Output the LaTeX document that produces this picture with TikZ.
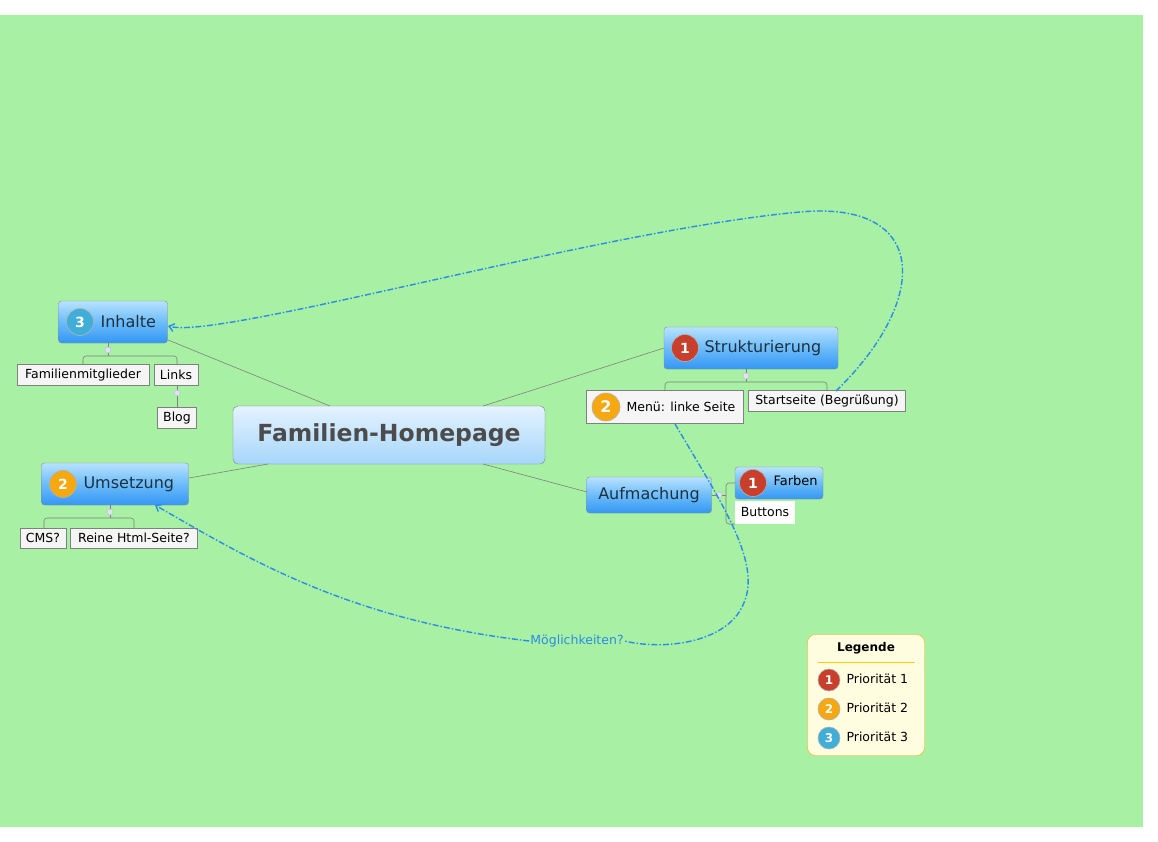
\documentclass[tikz,border=0pt]{standalone}
\usepackage{fontspec}
\setmainfont{DejaVu Sans}
\usetikzlibrary{arrows.meta}
\definecolor{bg}{HTML}{A8F0A4}
\definecolor{rel}{HTML}{2A8CE8}
\definecolor{txt}{HTML}{1E3040}
\definecolor{ttop}{HTML}{B8E2FF}
\definecolor{tmid}{HTML}{6CBCFA}
\definecolor{tbot}{HTML}{3496F4}
\definecolor{ctop}{HTML}{E4F3FF}
\definecolor{cbot}{HTML}{A6D6FA}
\definecolor{r1}{HTML}{C8402C}
\definecolor{o2}{HTML}{F5A810}
\definecolor{c3}{HTML}{40AED8}
\begin{document}
\begin{tikzpicture}[x=1pt,y=-1pt,
 topic/.style={draw=black!45,rounded corners=3pt,top color=ttop,bottom color=tbot,middle color=tmid,font=\fontsize{16}{18}\selectfont,text=txt,inner sep=0pt,anchor=center},
 sub/.style={draw=black!50,fill=white!96!black,font=\fontsize{12.5}{14}\selectfont,inner sep=0pt,anchor=center},
 conn/.style={draw=black!50,line width=0.6pt},
 brk/.style={draw=black!50,line width=0.6pt,rounded corners=3pt},
 relc/.style={draw=rel,line width=1.4pt,dash pattern=on 6pt off 2pt on 1.5pt off 2pt},
 mini/.style={circle,draw=black!25,fill=blue!12,inner sep=0pt,minimum size=6pt},
 ico/.style={circle,inner sep=0pt,text=white,font=\bfseries\fontsize{14}{14}\selectfont,draw=white!70!black,line width=0.6pt},
]
\fill[white] (0,0) rectangle (1158,842);
\fill[bg] (0,15) rectangle (1143,827);
\useasboundingbox (0,0) rectangle (1158,842);
% nodes
\node[draw=black!50,rounded corners=5pt,top color=ctop,bottom color=cbot,minimum width=312pt,minimum height=58pt,font=\bfseries\fontsize{23.5}{26}\selectfont,text=black!70] (c) at (389,435) {Familien-Homepage};
\node[topic,minimum width=109pt,minimum height=42pt] (inh) at (113,322) {};
\node[topic,minimum width=147pt,minimum height=42pt] (ums) at (115,484) {};
\node[topic,minimum width=174pt,minimum height=42pt] (str) at (751,348) {};
\node[topic,minimum width=125pt,minimum height=36pt] (auf) at (649,495) {Aufmachung};
\node[topic,minimum width=88pt,minimum height=32pt] (far) at (779,483) {};
\node[sub,fill=white,draw=none,minimum width=60pt,minimum height=23pt] (but) at (765,512) {Buttons};
\node[sub,minimum width=132pt,minimum height=21pt] (fam) at (83,375) {Familienmitglieder};
\node[sub,minimum width=44pt,minimum height=21pt] (lnk) at (176,375) {Links};
\node[sub,minimum width=39pt,minimum height=21pt] (blg) at (177,418) {Blog};
\node[sub,minimum width=46pt,minimum height=20pt] (cms) at (43,538) {CMS?};
\node[sub,minimum width=127pt,minimum height=20pt] (rhs) at (134,538) {Reine Html-Seite?};
\node[sub,minimum width=157pt,minimum height=33pt] (men) at (665,407) {};
\node[sub,minimum width=157pt,minimum height=21pt] (sts) at (827,401) {Startseite (Begrüßung)};
% labels and icons
\node[font=\fontsize{16}{18}\selectfont,text=txt,anchor=west] at (97,322) {Inhalte};
\node[ico,fill=c3,minimum size=27pt] (i3) at (80,322) {3};
\node[font=\fontsize{16}{18}\selectfont,text=txt,anchor=west] at (80,484) {Umsetzung};
\node[ico,fill=o2,minimum size=27pt] (i2) at (63,484) {2};
\node[font=\fontsize{16}{18}\selectfont,text=txt,anchor=west] at (701,348) {Strukturierung};
\node[ico,fill=r1,minimum size=27pt] (i1) at (685,348) {1};
\node[font=\fontsize{13}{15}\selectfont,text=black,anchor=west] at (770,481) {Farben};
\node[ico,fill=r1,minimum size=27pt] (i1b) at (753,483) {1};
\node[font=\fontsize{12.5}{14}\selectfont,anchor=west] at (623,407) {Menü: linke Seite};
\node[ico,fill=o2,minimum size=28pt,font=\bfseries\fontsize{16}{16}\selectfont] (i2b) at (606,407) {2};
% main connectors
\draw[conn] (330,406) -- (168,340);
\draw[conn] (483,406) -- (664,348);
\draw[conn] (268,464) -- (189,478);
\draw[conn] (483,464) -- (587,492);
% brackets
\draw[brk] (108,343) -- (108,356);
\draw[brk] (83,365) |- (177,356) -- (177,365);
\node[mini] (m1) at (108,350) {};
\draw[brk] (177,386) -- (177,408);
\node[mini] (m2) at (177,393) {};
\draw[brk] (110,505) -- (110,518);
\draw[brk] (44,528) |- (134,518) -- (134,528);
\node[mini] (m3) at (110,512) {};
\draw[brk] (746,369) -- (746,382);
\draw[brk] (665,391) |- (827,382) -- (827,391);
\node[mini] (m4) at (746,376) {};
\draw[brk] (712,495) -- (726,495);
\draw[brk] (735,483) -- (726,483) -- (726,524) -- (735,524);
\node[mini] (m5) at (719,495) {};
% relationships
\draw[relc,-{Straight Barb[length=5pt,width=8pt]}] (836,391) .. controls (930,300) and (930,200) .. (800,212) .. controls (600,230) and (220,340) .. (168,326);
\node[text=rel,font=\fontsize{12.5}{14}\selectfont,inner sep=1pt] (lab) at (577,641) {Möglichkeiten?};
\draw[relc] (675,424) .. controls (720,500) and (760,560) .. (745,600) .. controls (730,645) and (660,650) .. (lab.east);
\draw[relc,-{Straight Barb[length=5pt,width=8pt]}] (lab.west) .. controls (350,620) and (250,560) .. (155,505);
% legend
\node[draw=orange!70!yellow,fill=yellow!12,rounded corners=8pt,minimum width=117pt,minimum height=121pt] (leg) at (866,695) {};
\node[font=\bfseries\fontsize{12}{14}\selectfont] (lt) at (866,648) {Legende};
\draw[orange!40!yellow,line width=0.5pt] (818,662) -- (915,662);
\node[ico,fill=r1,minimum size=22pt,font=\bfseries\fontsize{12}{12}\selectfont] (l1) at (829,680) {1};
\node[ico,fill=o2,minimum size=22pt,font=\bfseries\fontsize{12}{12}\selectfont] (l2) at (829,709) {2};
\node[ico,fill=c3,minimum size=22pt,font=\bfseries\fontsize{12}{12}\selectfont] (l3) at (829,738) {3};
\node[anchor=west,font=\fontsize{12.5}{14}\selectfont] at (843,679) {Priorität 1};
\node[anchor=west,font=\fontsize{12.5}{14}\selectfont] at (843,708) {Priorität 2};
\node[anchor=west,font=\fontsize{12.5}{14}\selectfont] at (843,737) {Priorität 3};
\end{tikzpicture}
\end{document}
